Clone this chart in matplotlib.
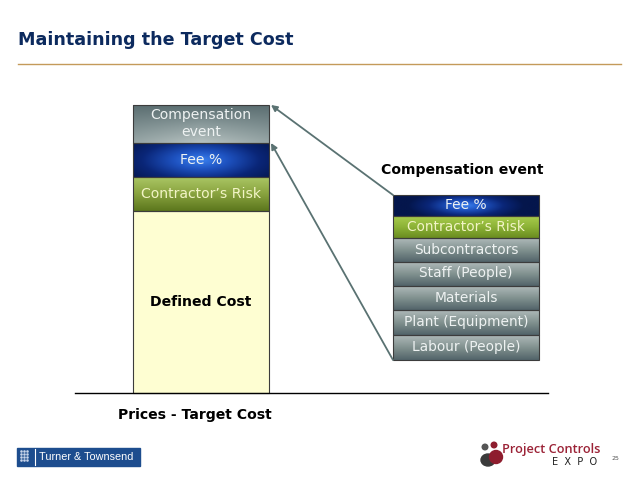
import matplotlib.pyplot as plt
import numpy as np
from matplotlib.colors import LinearSegmentedColormap
from matplotlib.patches import Rectangle, Circle, Ellipse

# left stack: Prices - Target Cost (bottom to top), heights in picture units
left_labels = ['Defined Cost', 'Contractor\u2019s Risk', 'Fee %', 'Compensation\nevent']
left_heights = [182, 34, 34, 38]
left_kinds = ['plain', 'green', 'fee', 'grey_left']

# right stack: Compensation event (bottom to top)
right_labels = ['Labour (People)', 'Plant (Equipment)', 'Materials', 'Staff (People)',
				'Subcontractors', 'Contractor\u2019s Risk', 'Fee %']
right_heights = [25, 25, 24, 24, 24, 22, 21]
right_kinds = ['grey', 'grey', 'grey', 'grey', 'grey', 'green_r', 'fee_r']

W, H = 638, 479
fig = plt.figure(figsize=(W / 100, H / 100), dpi=100)
ax = fig.add_axes([0, 0, 1, 1])
ax.set_xlim(0, W)
ax.set_ylim(0, H)
ax.axis('off')

# colour ramps run from the top of a segment to its bottom
ramps = {
	'grey_left': ['#5b6e71', '#8a9a9b', '#b8c3c2'],
	'grey': ['#aeb9b9', '#81918f', '#52646a'],
	'green': ['#aac664', '#88a23e', '#5c771d'],
	'green_r': ['#a8cc4c', '#8cb236', '#6a8c20'],
}


def fill_gradient(patch, kind, x0, x1, y0, y1):
	if kind.startswith('fee'):
		xx, yy = np.meshgrid(np.linspace(-1, 1, 160), np.linspace(-1, 1, 60))
		sx = 0.75 if kind == 'fee' else 1.0
		r = np.clip(np.sqrt((xx * sx) ** 2 + (yy * 0.55) ** 2), 0, 1)
		if kind == 'fee_r':
			r = np.clip(r * 1.25, 0, 1)
		cmap = LinearSegmentedColormap.from_list(
			'fee', [(0, '#3a80ee'), (0.3, '#1e52c0'), (0.65, '#0a2678'), (1, '#04164c')])
		img = r
	else:
		cmap = LinearSegmentedColormap.from_list(kind, ramps[kind])
		img = np.linspace(0, 1, 60)[:, None] * np.ones((1, 40))
		if kind == 'grey_left':
			xx = np.abs(np.linspace(-1, 1, 40))[None, :]
			img = np.clip(img * (1 - 0.35 * xx), 0, 1)
	im = ax.imshow(img, cmap=cmap, extent=(x0, x1, y0, y1), aspect='auto',
				   interpolation='bicubic', origin='upper', vmin=0, vmax=1, zorder=2)
	im.set_clip_path(patch)


def draw_stack(xc, width, base, heights, labels, kinds, size):
	bars = ax.bar([xc] * len(heights), heights, width=width,
				  bottom=base + np.concatenate([[0], np.cumsum(heights)[:-1]]),
				  color='#fefed2', edgecolor='#3c3c3c', linewidth=0.8, zorder=3)
	for bar, label, kind in zip(bars, labels, kinds):
		x0, y0 = bar.get_x(), bar.get_y()
		x1, y1 = x0 + bar.get_width(), y0 + bar.get_height()
		if kind != 'plain':
			bar.set_facecolor('none')
			fill_gradient(bar, kind, x0, x1, y0, y1)
		if kind == 'plain':
			color, weight = 'black', 'bold'
		elif kind.startswith('green'):
			color, weight = '#f2f4c6', 'normal'
		else:
			color, weight = '#eef2f2', 'normal'
		ax.text((x0 + x1) / 2, (y0 + y1) / 2 + 0.5, label, ha='center', va='center',
				color=color, fontsize=size, fontweight=weight, zorder=4, linespacing=1.2)
	return bars


left = draw_stack(201, 136, 86, left_heights, left_labels, left_kinds, 10.1)
right = draw_stack(466, 146, 119, right_heights, right_labels, right_kinds, 9.9)

# baseline
ax.plot([75, 548], [86, 86], color='black', lw=1.0, zorder=3)

# arrows from the compensation event stack into the left stack
left_top = left[-1].get_y() + left[-1].get_height()
left_comp_bottom = left[-1].get_y()
right_top = right[-1].get_y() + right[-1].get_height()
right_bottom = right[0].get_y()
rx = right[0].get_x()
lx = left[0].get_x() + left[0].get_width()
for (tx, ty), (sx, sy) in [((lx + 2, left_top), (rx, right_top)),
						   ((lx + 2, left_comp_bottom), (rx, right_bottom))]:
	ax.annotate('', xy=(tx, ty), xytext=(sx, sy),
				arrowprops=dict(arrowstyle='-|>', color='#5a7272', lw=1.3,
								mutation_scale=9, shrinkA=0, shrinkB=0), zorder=5)

# texts
ax.text(18, H - 40, 'Maintaining the Target Cost', ha='left', va='center',
		fontsize=12.6, fontweight='bold', color='#0c2a5e')
ax.plot([18, 621], [H - 64, H - 64], color='#c49a5a', lw=1.0)
ax.text(462, H - 170, 'Compensation event', ha='center', va='center',
		fontsize=10.1, fontweight='bold', color='black')
ax.text(195, H - 415, 'Prices - Target Cost', ha='center', va='center',
		fontsize=10.1, fontweight='bold', color='black')

# footer: Turner & Townsend logo
ax.add_patch(Rectangle((17, H - 466), 123, 18, color='#1d4d8e', zorder=3))
ax.plot([35, 35], [H - 465, H - 449], color='white', lw=0.8, zorder=4)
for i in range(3):
	for j in range(4):
		ax.plot(21 + i * 3, H - 451 - j * 3, marker='s', ms=0.8, color='#c8d4ea', zorder=4)
ax.text(39, H - 457, 'Turner & Townsend', ha='left', va='center', fontsize=7.8,
		color='white', family='Liberation Sans', zorder=4)

# footer: Project Controls EXPO logo
ax.add_patch(Ellipse((488, H - 460), 14, 12, color='#3a3a3a', zorder=3))
ax.add_patch(Ellipse((496, H - 457), 13, 13, color='#8e1d2e', zorder=3))
ax.add_patch(Circle((485, H - 447), 2.8, color='#555555', zorder=3))
ax.add_patch(Circle((494, H - 445), 2.8, color='#8e1d2e', zorder=3))
ax.text(502, H - 449, 'Project Controls', ha='left', va='center', fontsize=9.2,
		color='#9b2236', family='Open Sans', fontweight='semibold')
ax.text(575, H - 462, 'E  X  P  O', ha='center', va='center', fontsize=7, color='#222222')
ax.text(615, H - 458, '25', ha='center', va='center', fontsize=4.5, color='#555555')

fig.savefig('out.png', dpi=100)
